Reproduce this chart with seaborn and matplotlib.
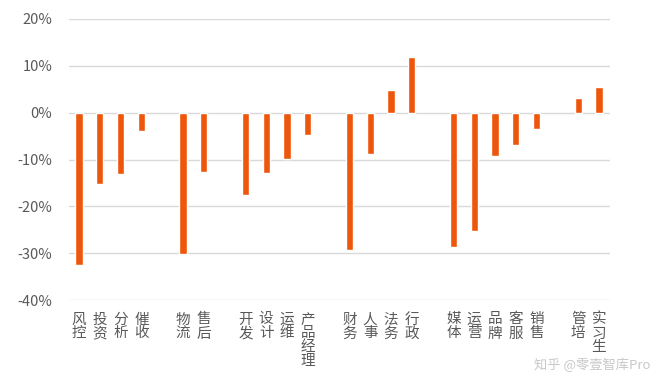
import matplotlib
matplotlib.use("Agg")
import matplotlib.pyplot as plt
import seaborn as sns
import pandas as pd
import numpy as np

# Data
categories = ["风控", "投资", "分析", "催收",
              "物流", "售后",
              "开发", "设计", "运维", "产品经理",
              "财务", "人事", "法务", "行政",
              "媒体", "运营", "品牌", "客服", "销售",
              "管培", "实习生"]
values = [-32.5, -15.2, -13.0, -3.9,
          -30.1, -12.6,
          -17.5, -12.9, -9.8, -4.7,
          -29.3, -8.8, 4.8, 11.8,
          -28.7, -25.2, -9.2, -6.9, -3.5,
          3.2, 5.4]
group_sizes = [4, 2, 4, 4, 5, 2]
yticks = [-40, -30, -20, -10, 0, 10, 20]

sns.set_theme(style="white")
plt.rcParams['font.family'] = ['Noto Sans CJK SC', 'DejaVu Sans']

def vert(s):
    return "\n".join(list(s))

labels = [vert(c) for c in categories]
df = pd.DataFrame({"cat": labels, "val": values})

# order with blank slots between groups
order = []
idx = 0
for gi, n in enumerate(group_sizes):
    order.extend(labels[idx:idx + n])
    idx += n
    if gi < len(group_sizes) - 1:
        order.append(" " * (gi + 1))

fig = plt.figure(figsize=(6.55, 3.74), dpi=100)
ax = fig.add_axes([69/655, 1 - 300/374, (610 - 69)/655, (300 - 19)/374])

sns.barplot(data=df, x="cat", y="val", order=order, color="#EE570B",
            width=0.34, saturation=1, ax=ax, errorbar=None)

ax.set_ylim(-40, 20)
ax.set_xlim(-0.48, len(order) - 1 + 0.53)
ax.set_yticks(yticks)
ax.set_yticklabels([f"{v}%" for v in yticks])
ax.yaxis.grid(True, color="#D9D9D9", linewidth=1)
ax.set_axisbelow(True)
for s in ax.spines.values():
    s.set_visible(False)
ax.set_xlabel("")
ax.set_ylabel("")
ax.tick_params(axis="y", length=0, pad=12, labelsize=10.5, labelcolor="#595959")
ax.tick_params(axis="x", length=0, pad=9, labelsize=10.5, labelcolor="#595959")
for t in ax.get_xticklabels():
    t.set_linespacing(1.0)
    t.set_verticalalignment("top")

fig.text(650/655, 1 - 365/374, "知乎 @零壹智库Pro", ha="right", va="center",
         fontsize=9.5, color="#BBBBBB", alpha=0.8)

fig.savefig("out.png", dpi=100, facecolor="white")
